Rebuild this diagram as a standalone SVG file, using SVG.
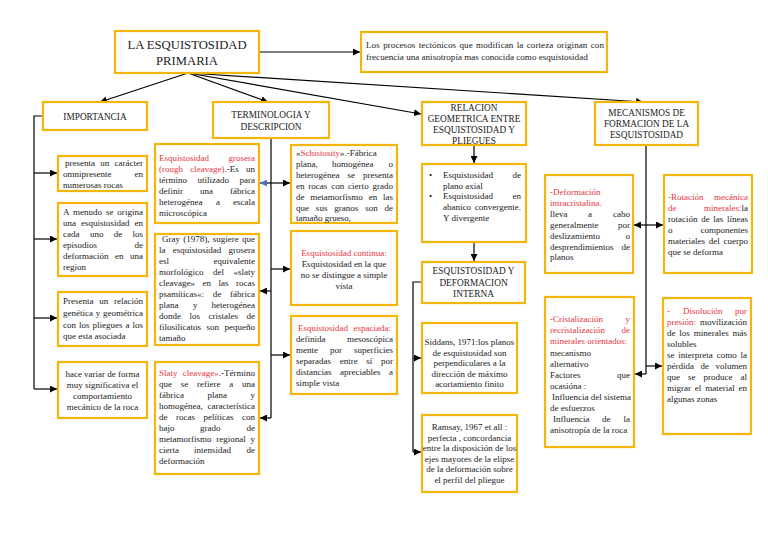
<svg xmlns="http://www.w3.org/2000/svg" width="768" height="543" viewBox="0 0 768 543">
<style>
.bx{fill:#fff;stroke:#F5B50A;stroke-width:2.2}
text{font-family:"Liberation Serif","Times New Roman",serif;font-size:9px;fill:#222}
.r{fill:#E8343F}
.m{text-anchor:middle}
.e{text-anchor:end}
.h{font-size:9.3px}
.k{stroke:#000;stroke-width:1.2;fill:none}
</style>
<defs>
<marker id="a" markerUnits="userSpaceOnUse" markerWidth="8" markerHeight="7" refX="7" refY="3.5" orient="auto"><path d="M0,0 L7,3.5 L0,7 z" fill="#000"/></marker>
<marker id="ab" markerUnits="userSpaceOnUse" markerWidth="8" markerHeight="7" refX="7" refY="3.5" orient="auto"><path d="M0,0 L7,3.5 L0,7 z" fill="#4472C4"/></marker>
</defs>
<rect width="768" height="543" fill="#fff"/>

<g id="connectors">
<path class="k" d="M259,52 H360" marker-end="url(#a)"/>
<path class="k" d="M188,73 L100,102" marker-end="url(#a)"/>
<path class="k" d="M188,73 L268,102" marker-end="url(#a)"/>
<path class="k" d="M188,73 L421,114" marker-end="url(#a)"/>
<path class="k" d="M188,73 L643,102" marker-end="url(#a)"/>
<path class="k" d="M43,116 H34 V389"/>
<path class="k" d="M34,173 H57" marker-end="url(#a)"/>
<path class="k" d="M34,239 H57" marker-end="url(#a)"/>
<path class="k" d="M34,318 H57" marker-end="url(#a)"/>
<path class="k" d="M34,389 H57" marker-end="url(#a)"/>
<path class="k" d="M271,138 V418"/>
<path class="k" d="M271,183 H290" marker-end="url(#a)"/>
<path class="k" d="M271,183 H260" marker-end="url(#ab)"/>
<path class="k" d="M271,291 H260" marker-end="url(#a)"/>
<path class="k" d="M271,269 H290" marker-end="url(#a)"/>
<path class="k" d="M271,355 H290" marker-end="url(#a)"/>
<path class="k" d="M271,418 H260" marker-end="url(#a)"/>
<path class="k" d="M474,145 V163" marker-end="url(#a)"/>
<path class="k" d="M474,242 V261" marker-end="url(#a)"/>
<path class="k" d="M422,282 H413 V452"/>
<path class="k" d="M413,358 H421" marker-end="url(#a)"/>
<path class="k" d="M413,452 H421" marker-end="url(#a)"/>
<path class="k" d="M646,145 V374"/>
<path class="k" d="M646,225 H634" marker-end="url(#a)"/>
<path class="k" d="M646,225 H663" marker-end="url(#a)"/>
<path class="k" d="M646,374 H635" marker-end="url(#a)"/>
<path class="k" d="M646,366 H662" marker-end="url(#a)"/>
</g>

<g id="title"><rect class="bx" x="115" y="31" width="144" height="42"/>
<text class="m" x="187" y="48.5" style="font-size:12.7px">LA ESQUISTOSIDAD</text>
<text class="m" x="187" y="65" style="font-size:12.7px">PRIMARIA</text></g>

<g id="note"><rect class="bx" x="361" y="32" width="246" height="40"/>
<text x="366" y="48" style="font-size:9.1px;word-spacing:0.98px" textLength="238" lengthAdjust="spacing">Los procesos tectónicos que modifican la corteza originan con</text>
<text x="366" y="60" style="font-size:9.1px">frecuencia una anisotropía mas conocida como esquistosidad</text></g>

<g id="importancia"><rect class="bx" x="43" y="102" width="104" height="28"/>
<text class="m h" x="95" y="119.5">IMPORTANCIA</text></g>

<g id="terminologia"><rect class="bx" x="213" y="102" width="116" height="36"/>
<text class="m h" x="271" y="117.5">TERMINOLOGIA Y</text>
<text class="m h" x="271" y="129.5">DESCRIPCION</text></g>

<g id="relacion"><rect class="bx" x="422" y="102" width="104" height="43"/>
<text class="m h" x="474" y="110.5">RELACION</text>
<text class="m h" x="474" y="121.5">GEOMETRICA ENTRE</text>
<text class="m h" x="474" y="132.5">ESQUISTOSIDAD Y</text>
<text class="m h" x="474" y="143.5">PLIEGUES</text></g>

<g id="mecanismos"><rect class="bx" x="595" y="102" width="103" height="43"/>
<text class="m h" x="646.5" y="115.5">MECANISMOS DE</text>
<text class="m h" x="646.5" y="126.5">FORMACION DE LA</text>
<text class="m h" x="646.5" y="137.5">ESQUISTOSIDAD</text></g>

<g id="imp1"><rect class="bx" x="58" y="156" width="89" height="35"/>
<text x="65" y="166" style="word-spacing:3px" textLength="78" lengthAdjust="spacing">presenta un carácter</text>
<text x="63" y="177">omnipresente</text><text class="e" x="143" y="177">en</text>
<text x="63" y="188">numerosas rocas</text></g>

<g id="imp2"><rect class="bx" x="58" y="203" width="89" height="73"/>
<text x="63" y="215" style="word-spacing:1.6px" textLength="80" lengthAdjust="spacing">A menudo se origina</text>
<text x="63" y="226" style="word-spacing:2.75px" textLength="80" lengthAdjust="spacing">una esquistosidad en</text>
<text x="63" y="237">cada</text><text x="90" y="237">uno</text><text x="113.7" y="237">de</text><text class="e" x="143" y="237">los</text>
<text x="63" y="248">episodios</text><text class="e" x="143" y="248">de</text>
<text x="63" y="259">deformación</text><text x="115" y="259">en</text><text class="e" x="143" y="259">una</text>
<text x="63" y="270">region</text></g>

<g id="imp3"><rect class="bx" x="58" y="292" width="89" height="54"/>
<text x="63" y="304" style="word-spacing:3.5px" textLength="80" lengthAdjust="spacing">Presenta un relación</text>
<text x="63" y="316" style="word-spacing:0.5px" textLength="80" lengthAdjust="spacing">genética y geométrica</text>
<text x="63" y="328" style="word-spacing:0.75px" textLength="80" lengthAdjust="spacing">con los pliegues a los</text>
<text x="63" y="339">que esta asociada</text></g>

<g id="imp4"><rect class="bx" x="58" y="362" width="89" height="56"/>
<text class="m" x="102.5" y="377">hace variar de forma</text>
<text class="m" x="102.5" y="388">muy significativa el</text>
<text class="m" x="102.5" y="399">comportamiento</text>
<text class="m" x="102.5" y="410">mecánico de la roca</text></g>

<g id="grosera"><rect class="bx" x="155" y="144" width="104" height="79"/>
<text class="r" x="159" y="160.5">Esquistosidad</text><text class="r e" x="255" y="160.5">grosera</text>
<text x="159" y="171.5" style="word-spacing:4.9px" textLength="96" lengthAdjust="spacing"><tspan class="r">(rough cleavage)</tspan>.-Es un</text>
<text x="159" y="182.5">término</text><text x="197.5" y="182.5">utilizado</text><text class="e" x="255" y="182.5">para</text>
<text x="159" y="193.5">definir</text><text x="200" y="193.5">una</text><text class="e" x="255" y="193.5">fábrica</text>
<text x="159" y="204.5">heterogénea</text><text x="216" y="204.5">a</text><text class="e" x="255" y="204.5">escala</text>
<text x="159" y="215.5">microscópica</text></g>

<g id="gray"><rect class="bx" x="155" y="234" width="104" height="111"/>
<text x="162" y="242" style="word-spacing:1px" textLength="93" lengthAdjust="spacing">Gray (1978), sugiere que</text>
<text x="159" y="253" style="word-spacing:5px" textLength="96" lengthAdjust="spacing">la esquistosidad grosera</text>
<text x="159" y="264">esl</text><text class="e" x="255" y="264">equivalente</text>
<text x="159" y="275" style="word-spacing:7.25px" textLength="96" lengthAdjust="spacing">morfológico del «slaty</text>
<text x="159" y="286" style="word-spacing:5.3px" textLength="96" lengthAdjust="spacing">cleavage» en las rocas</text>
<text x="159" y="297" style="word-spacing:6.5px" textLength="96" lengthAdjust="spacing">psamíticas«: de fábrica</text>
<text x="159" y="308">plana</text><text x="193" y="308">y</text><text class="e" x="255" y="308">heterogénea</text>
<text x="159" y="319" style="word-spacing:6.3px" textLength="96" lengthAdjust="spacing">donde los cristales de</text>
<text x="159" y="330" style="word-spacing:3.25px" textLength="96" lengthAdjust="spacing">filosilicatos son pequeño</text>
<text x="159" y="341">tamaño</text></g>

<g id="slaty"><rect class="bx" x="155" y="362" width="104" height="112"/>
<text x="159" y="376" style="word-spacing:3px" textLength="96" lengthAdjust="spacing"><tspan class="r">Slaty cleavage»</tspan>.-Término</text>
<text x="159" y="387" style="word-spacing:6.5px" textLength="96" lengthAdjust="spacing">que se refiere a una</text>
<text x="159" y="398">fábrica</text><text x="207.5" y="398">plana</text><text class="e" x="255" y="398">y</text>
<text x="159" y="409" style="word-spacing:2.5px" textLength="96" lengthAdjust="spacing">homogénea, característica</text>
<text x="159" y="420" style="word-spacing:6.3px" textLength="96" lengthAdjust="spacing">de rocas pelíticas con</text>
<text x="159" y="431">bajo</text><text x="200" y="431">grado</text><text class="e" x="255" y="431">de</text>
<text x="159" y="442" style="word-spacing:2.5px" textLength="96" lengthAdjust="spacing">metamorfismo regional y</text>
<text x="159" y="453">cierta</text><text x="194" y="453">intensidad</text><text class="e" x="255" y="453">de</text>
<text x="159" y="464">deformación</text></g>

<g id="schistosity"><rect class="bx" x="291" y="145" width="106" height="78"/>
<text x="296" y="155.5">«<tspan class="r">Schistosity</tspan>».-Fábrica</text>
<text x="296" y="166.5">plana,</text><text x="332" y="166.5">homogénea</text><text class="e" x="393" y="166.5">o</text>
<text x="296" y="177.5" style="word-spacing:5.75px" textLength="97" lengthAdjust="spacing">heterogénea se presenta</text>
<text x="296" y="188.5" style="word-spacing:1.6px" textLength="97" lengthAdjust="spacing">en rocas con cierto grado</text>
<text x="296" y="199.5" style="word-spacing:3.6px" textLength="97" lengthAdjust="spacing">de metamorfismo en las</text>
<text x="296" y="210.5" style="word-spacing:4.6px" textLength="97" lengthAdjust="spacing">que sus granos son de</text>
<text x="296" y="221">tamaño grueso,</text></g>

<g id="continua"><rect class="bx" x="291" y="231" width="106" height="74"/>
<text class="m r" x="344" y="256">Esquistosidad continua:</text>
<text class="m" x="344" y="267">Esquistosidad en la que</text>
<text class="m" x="344" y="278">no se distingue a simple</text>
<text class="m" x="344" y="289">vista</text></g>

<g id="espaciada"><rect class="bx" x="291" y="316" width="106" height="78"/>
<text class="r" x="298" y="331" style="word-spacing:3.3px" textLength="93" lengthAdjust="spacing">Esquistosidad espaciada:</text>
<text x="296" y="342">definida</text><text class="e" x="393" y="342">mesoscópica</text>
<text x="296" y="353">mente</text><text x="330" y="353">por</text><text class="e" x="393" y="353">superficies</text>
<text x="296" y="364" style="word-spacing:6.4px" textLength="97" lengthAdjust="spacing">separadas entre sí por</text>
<text x="296" y="375" style="word-spacing:6.25px" textLength="97" lengthAdjust="spacing">distancias apreciables a</text>
<text x="296" y="386">simple vista</text></g>

<g id="bullets"><rect class="bx" x="422" y="164" width="104" height="78"/>
<text x="429" y="178">•</text><text x="443" y="178">Esquistosidad</text><text class="e" x="521" y="178">de</text>
<text x="443" y="188.5">plano axial</text>
<text x="429" y="199">•</text><text x="443" y="199">Esquistosidad</text><text class="e" x="521" y="199">en</text>
<text x="443" y="210" style="word-spacing:1.5px" textLength="78" lengthAdjust="spacing">abanico convergente.</text>
<text x="443" y="221">Y divergente</text></g>

<g id="deformacion"><rect class="bx" x="422" y="262" width="103" height="41"/>
<text class="m h" x="473.5" y="273.5">ESQUISTOSIDAD Y</text>
<text class="m h" x="473.5" y="285.5">DEFORMACION</text>
<text class="m h" x="473.5" y="297">INTERNA</text></g>

<g id="siddans"><rect class="bx" x="422" y="323" width="95" height="70"/>
<text class="m" x="469.5" y="345">Siddans, 1971:los planos</text>
<text class="m" x="469.5" y="355.5">de esquistosidad son</text>
<text class="m" x="469.5" y="366">perpendiculares a la</text>
<text class="m" x="469.5" y="376.5">dirección de máximo</text>
<text class="m" x="469.5" y="387">acortamiento finito</text></g>

<g id="ramsay"><rect class="bx" x="422" y="415" width="95" height="77"/>
<text class="m" x="469.5" y="430">Ramsay, 1967 et all :</text>
<text class="m" x="469.5" y="440.5">perfecta , concordancia</text>
<text class="m" x="469.5" y="451">entre la disposición de los</text>
<text class="m" x="469.5" y="461.5">ejes mayores de la elipse</text>
<text class="m" x="469.5" y="472">de la deformación sobre</text>
<text class="m" x="469.5" y="482.5">el perfil del pliegue</text></g>

<g id="intracristalina"><rect class="bx" x="545" y="175" width="88" height="98"/>
<text class="r" x="550" y="195">-Deformación</text>
<text class="r" x="550" y="206">intracristalina.</text>
<text x="550" y="217">lleva</text><text x="588" y="217">a</text><text class="e" x="630" y="217">cabo</text>
<text x="550" y="228">generalmente</text><text class="e" x="630" y="228">por</text>
<text x="550" y="238.5">deslizamiento</text><text class="e" x="630" y="238.5">o</text>
<text x="550" y="249.5">desprendimientos</text><text class="e" x="630" y="249.5">de</text>
<text x="550" y="260">planos</text></g>

<g id="rotacion"><rect class="bx" x="664" y="175" width="88" height="98"/>
<text class="r" x="668" y="200">-Rotación</text><text class="r e" x="748" y="200">mecánica</text>
<text class="r" x="668" y="211">de</text><text class="e" x="748" y="211"><tspan class="r">minerales:</tspan>la</text>
<text x="668" y="222" style="word-spacing:1.4px" textLength="80" lengthAdjust="spacing">rotación de las líneas</text>
<text x="668" y="233">o</text><text class="e" x="748" y="233">componentes</text>
<text x="668" y="244" style="word-spacing:1.5px" textLength="80" lengthAdjust="spacing">materiales del cuerpo</text>
<text x="668" y="255">que se deforma</text></g>

<g id="cristalizacion"><rect class="bx" x="545" y="297" width="89" height="150"/>
<text class="r" x="550" y="322">-Cristalización</text><text class="r e" x="630" y="322">y</text>
<text class="r" x="550" y="333">recristalización</text><text class="r e" x="630" y="333">de</text>
<text class="r" x="550" y="344">minerales orientados:</text>
<text x="550" y="355.5">mecanismo</text>
<text x="550" y="366.5">alternativo</text>
<text x="550" y="377.5">Factores</text><text class="e" x="630" y="377.5">que</text>
<text x="550" y="388.5">ocasióna :</text>
<text x="552" y="400">Influencia del sistema</text>
<text x="550" y="411">de esfuerzos</text>
<text x="553" y="422">Influencia</text><text x="602" y="422">de</text><text class="e" x="630" y="422">la</text>
<text x="550" y="433">anisotropía de la roca</text></g>

<g id="disolucion"><rect class="bx" x="663" y="298" width="88" height="136"/>
<text class="r" x="667" y="314">-</text><text class="r" x="683" y="314">Disolución</text><text class="r e" x="747" y="314">por</text>
<text class="r" x="667" y="325">presión:</text><text class="e" x="747" y="325">movilización</text>
<text x="667" y="336" style="word-spacing:1.6px" textLength="80" lengthAdjust="spacing">de los minerales más</text>
<text x="667" y="347">solubles</text>
<text x="667" y="358" style="word-spacing:1.6px" textLength="80" lengthAdjust="spacing">se interpreta como la</text>
<text x="667" y="369">pérdida</text><text x="700.5" y="369">de</text><text class="e" x="747" y="369">volumen</text>
<text x="667" y="380">que</text><text x="688" y="380">se</text><text x="703.5" y="380">produce</text><text class="e" x="747" y="380">al</text>
<text x="667" y="391" style="word-spacing:1.6px" textLength="80" lengthAdjust="spacing">migrar el material en</text>
<text x="667" y="402">algunas zonas</text></g>
</svg>
